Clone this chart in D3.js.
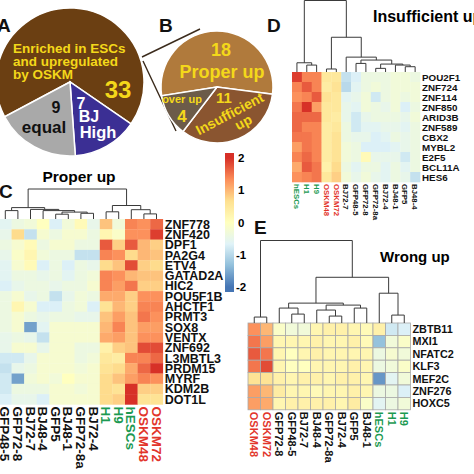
<!DOCTYPE html>
<html>
<head>
<meta charset="utf-8">
<script src="https://cdn.jsdelivr.net/npm/d3@7"></script>
<style>
body { margin: 0; background: #fff; }
svg { display: block; font-family: "Liberation Sans", Arial, sans-serif; font-weight: bold; }
</style>
</head>
<body>
<svg id="chart" width="474" height="474"></svg>
<script>
// pie A / pie B
const pieALabels = ["Enriched", "BJ High", "equal"];
const pieAValues = [33, 7, 9];
const pieBLabels = ["Proper up", "Insufficient up", "over up"];
const pieBValues = [18, 11, 4];

// panel C: Proper up
const cCols = ["GFP48-5", "GFP72-8", "BJ72-7", "BJ48-4", "GFP5", "BJ48-1", "GFP72-8a", "BJ72-4", "H1", "H9", "hESCs", "OSKM48", "OSKM72"];
const cRows = ["ZNF778", "ZNF420", "DPF1", "PA2G4", "ETV4", "GATAD2A", "HIC2", "POU5F1B", "AHCTF1", "PRMT3", "SOX8", "VENTX", "ZNF692", "L3MBTL3", "PRDM15", "MYRF", "KDM2B", "DOT1L"];
const cValues = [
    [-0.6, -0.4, -0.3, 0.0, -0.7, -0.3, 0.1, -0.5, 0.9, -0.3, 1.4, 1.3, 1.6],
    [-0.5, 0.7, -0.9, -0.2, -0.4, -0.2, -0.2, -0.4, 0.2, -0.1, 1.3, 1.3, 1.9],
    [-0.4, -0.2, 0.1, -0.4, -0.2, -0.2, -0.4, -0.4, 1.7, 0.8, 1.7, 1.0, 0.8],
    [-0.5, -0.1, 0.2, -0.3, -0.4, -0.4, -0.9, -0.9, 1.4, 1.3, 0.7, 1.0, 0.9],
    [-0.6, -0.2, 0.1, -0.7, -0.4, -0.7, -0.4, -0.5, 0.7, 0.9, 1.8, 0.8, 0.7],
    [-0.6, -0.4, -0.4, -0.5, -0.4, -0.6, -0.4, -0.3, 1.4, 1.3, 1.0, 0.9, 0.9],
    [-0.7, -0.5, -0.4, -0.4, -0.5, -0.4, -0.4, -0.2, 1.4, 1.2, 1.5, 0.8, 0.8],
    [-0.4, -0.2, -0.5, -0.4, -0.9, -0.5, -0.3, -0.4, 1.1, 1.1, 0.8, 1.3, 1.3],
    [-0.4, 0.2, -0.2, -0.7, -0.7, -0.4, -0.3, -0.7, 0.6, 1.0, 0.8, 1.4, 1.4],
    [-0.4, -0.2, -0.4, -0.5, -0.4, -0.4, -0.5, -0.5, 0.9, 1.2, 0.9, 1.5, 1.3],
    [-0.4, -0.2, -1.6, -0.6, -0.2, -0.2, -0.2, -0.2, 1.0, 1.4, 0.9, 1.2, 1.2],
    [-0.5, -0.4, -0.5, -0.9, -0.2, -0.2, -0.2, -0.2, 1.1, 1.2, 0.9, 1.3, 1.3],
    [-0.5, -0.2, -0.2, -0.5, -0.2, -0.2, -0.4, -0.4, 0.3, 0.8, 0.9, 1.8, 1.8],
    [-0.8, -0.8, -0.5, -0.2, -0.2, -0.2, -0.4, -0.3, 0.5, 0.4, 1.4, 1.4, 1.6],
    [-0.9, -0.5, -0.4, -0.2, -0.2, -0.2, -0.3, -0.2, 0.6, 0.7, 1.1, 1.6, 2.0],
    [-0.8, -1.6, -0.3, -0.2, -0.3, 0.0, -0.2, -0.2, 0.7, 0.9, 1.2, 1.4, 1.3],
    [-0.8, -0.4, -0.4, -0.4, -0.2, -0.2, -0.3, -0.2, 0.7, 0.6, 2.0, 0.8, 0.8],
    [-0.7, -0.5, -0.5, -0.7, -0.2, -0.2, -0.2, -0.2, 0.7, 0.8, 2.0, 0.6, 0.6]
];
const cTree = [10, [3.8, [2.8, "GFP48-5", "GFP72-8"], [3.2, "BJ72-7", [2.8, "BJ48-4", [2.3, [1.6, "GFP5", "BJ48-1"], [1.9, "GFP72-8a", "BJ72-4"]]]]],
                   [4.5, [2.4, "H1", "H9"], [3.1, "hESCs", [1.7, "OSKM48", "OSKM72"]]]];

// panel D: Insufficient up
const dCols = ["hESCs", "H1", "H9", "OSKM48", "OSKM72", "BJ72-7", "GFP48-5", "GFP72-8", "GFP72-8a", "BJ72-4", "BJ48-1", "GFP5", "BJ48-4"];
const dRows = ["POU2F1", "ZNF724", "ZNF114", "ZNF850", "ARID3B", "ZNF589", "CBX2", "MYBL2", "E2F5", "BCL11A", "HES6"];
const dValues = [
    [1.9, 1.4, 1.4, 0.5, 0.5, -0.9, -0.7, -0.4, -0.4, -0.4, -0.3, -0.3, -0.4],
    [1.4, 1.7, 1.4, 0.4, 0.6, -1.0, -0.6, -0.4, -0.3, -0.4, -0.3, -0.3, -0.3],
    [1.3, 1.4, 1.7, 0.6, 0.5, -0.6, -0.5, -0.3, -0.8, -0.4, -0.3, -0.4, -0.3],
    [1.5, 2.0, 1.2, 0.5, 0.5, -0.5, -0.6, -0.3, -0.4, -0.5, -0.3, -0.7, -0.4],
    [1.6, 1.6, 1.6, 0.5, 0.4, -0.5, -0.8, -0.5, -0.4, -0.4, -0.4, -0.5, -0.3],
    [1.6, 1.4, 1.4, 0.4, 0.5, -0.4, -0.8, -0.6, -0.6, -0.5, -0.5, -0.6, -0.4],
    [1.5, 1.5, 1.4, 0.4, 0.6, -0.4, -0.5, -0.5, -0.7, -0.6, -0.4, -0.5, -0.4],
    [1.2, 1.5, 1.4, 0.4, 0.6, -0.3, -0.4, -0.7, -0.7, -0.7, -0.6, -0.5, -0.4],
    [1.4, 1.6, 1.4, 0.4, 0.6, -0.3, -0.4, 0.1, -0.5, -0.5, -0.5, -0.8, -0.4],
    [1.1, 1.7, 1.5, 0.3, 0.7, -0.4, -0.6, -0.4, -0.4, -0.6, -0.4, -0.6, -0.4],
    [1.3, 1.4, 1.5, 0.5, 0.8, -0.3, -0.5, -0.3, -0.5, -0.6, -0.4, -0.5, -0.9]
];
const dTree = [10, [1.29, "hESCs", [0.97, "H1", "H9"]],
                   [4.86, [0.42, "OSKM48", "OSKM72"],
                          [2.08, "BJ72-7", [1.67, [1.2, "GFP48-5", "GFP72-8"],
                                                  [1.11, [0.51, "GFP72-8a", "BJ72-4"], [0.97, "BJ48-1", [0.74, "GFP5", "BJ48-4"]]]]]]];

// panel E: Wrong up
const eCols = ["OSKM48", "OSKM72", "GFP72-8", "GFP48-5", "BJ72-7", "BJ48-4", "GFP72-8a", "BJ72-4", "GFP5", "BJ48-1", "hESCs", "H1", "H9"];
const eRows = ["ZBTB11", "MXI1", "NFATC2", "KLF3", "MEF2C", "ZNF276", "HOXC5"];
const eValues = [
    [1.3, 1.0, -0.1, -0.3, -0.3, 0.2, 0.3, 0.3, 0.2, 0.1, 0.3, -0.8, -0.7],
    [1.5, 1.2, 0.2, 0.2, 0.2, 0.3, 0.2, 0.2, 0.3, 0.1, -1.3, -0.3, -0.1],
    [1.7, 1.5, 0.2, 0.0, 0.2, 0.3, 0.2, 0.2, 0.2, 0.2, -0.4, -0.2, -0.3],
    [1.5, 1.8, 0.2, 0.0, 0.0, 0.2, 0.2, 0.2, 0.3, 0.2, -0.4, -0.3, -0.1],
    [0.6, 0.6, 0.3, 0.2, 0.3, 0.3, 0.2, 0.3, 0.3, 0.2, -1.7, -0.6, -0.3],
    [1.2, 1.0, 0.4, 0.2, 0.2, 0.1, 0.2, 0.2, 0.3, 0.2, -0.4, -0.4, -0.7],
    [1.2, 1.1, 0.2, 0.3, 0.3, 0.3, 0.3, 0.2, 0.4, -0.1, -0.6, -0.4, -0.3]
];
const eTree = [10, [0.72, "OSKM48", "OSKM72"],
                   [5.54, [2.41, [1.81, "GFP72-8", [1.08, "GFP48-5", "BJ72-7"]],
                                 [2.17, [1.57, "BJ48-4", [0.84, "GFP72-8a", "BJ72-4"]], [1.81, "GFP5", "BJ48-1"]]],
                          [3.61, "hESCs", [0.96, "H1", "H9"]]]];

const legendTicks = [2, 1, 0, -1, -2];

const svg = d3.select("#chart");

const heatColor = d3.scaleLinear()
    .domain([-2, -4/3, -2/3, 0, 2/3, 4/3, 2])
    .range(["#4575b4", "#91bfdb", "#e0f3f8", "#ffffbf", "#fee090", "#fc8d59", "#d73027"])
    .clamp(true);

function labelColor(name) {
    if (name === "hESCs" || name === "H1" || name === "H9") return "#1c9a52";
    if (name.startsWith("OSKM")) return "#e2352b";
    return "#111";
}

function drawHeatmap(p) {
    const g = svg.append("g");
    const x = d3.scaleBand().domain(p.cols).range([p.x0, p.x0 + p.cw * p.cols.length]);
    const y = d3.scaleBand().domain(p.rows).range([p.y0, p.y0 + p.rh * p.rows.length]);

    p.values.forEach((row, i) => {
        g.selectAll(null).data(row).enter().append("rect")
            .attr("x", (d, j) => x(p.cols[j]))
            .attr("y", y(p.rows[i]))
            .attr("width", x.bandwidth() + (p.grid ? 0 : 0.3))
            .attr("height", y.bandwidth() + (p.grid ? 0 : 0.3))
            .attr("fill", d => heatColor(d))
            .attr("stroke", p.grid ? "#a9a9a9" : "none")
            .attr("stroke-width", p.grid ? 0.8 : 0);
    });

    g.selectAll(".rowlab").data(p.rows).enter().append("text")
        .attr("x", x.range()[1] + 2)
        .attr("y", d => y(d) + y.bandwidth() / 2)
        .attr("dy", "0.36em")
        .attr("font-size", p.rowFont)
        .attr("fill", "#111")
        .text(d => d);

    g.selectAll(".collab").data(p.cols).enter().append("text")
        .attr("transform", d => `translate(${x(d) + x.bandwidth() / 2},${y.range()[1] + 2}) rotate(90)`)
        .attr("dy", "0.36em")
        .attr("font-size", p.colFont)
        .attr("fill", d => labelColor(d))
        .text(d => d);

    // dendrogram on top
    const hy = d3.scaleLinear().domain([0, 10]).range([p.y0, p.rootY]);
    const path = d3.path();
    function walk(node) {
        if (typeof node === "string") return { x: x(node) + x.bandwidth() / 2, y: hy(0) };
        const a = walk(node[1]);
        const b = walk(node[2]);
        const ny = hy(node[0]);
        path.moveTo(a.x, a.y);
        path.lineTo(a.x, ny);
        path.lineTo(b.x, ny);
        path.lineTo(b.x, b.y);
        return { x: (a.x + b.x) / 2, y: ny };
    }
    walk(p.tree);
    g.append("path").attr("d", path.toString())
        .attr("fill", "none").attr("stroke", "#3a3a3a").attr("stroke-width", 1);
}

drawHeatmap({ cols: cCols, rows: cRows, values: cValues, tree: cTree,
    x0: -1, y0: 219, cw: 12.6, rh: 10.3, rootY: 189, rowFont: 12.5, colFont: 13.5, grid: false });
drawHeatmap({ cols: dCols, rows: dRows, values: dValues, tree: dTree,
    x0: 292, y0: 72, cw: 9.85, rh: 10, rootY: 0.5, rowFont: 9.8, colFont: 7.8, grid: false });
drawHeatmap({ cols: eCols, rows: eRows, values: eValues, tree: eTree,
    x0: 248, y0: 323, cw: 12.5, rh: 12.4, rootY: 240.5, rowFont: 10.8, colFont: 11, grid: true });

// titles
svg.append("text").attr("x", 79).attr("y", 182).attr("text-anchor", "middle").attr("font-size", 15.5).text("Proper up");
svg.append("text").attr("x", 373).attr("y", 22).attr("font-size", 16).text("Insufficient up");
svg.append("text").attr("x", 380).attr("y", 262).attr("font-size", 15).text("Wrong up");

// colour legend
const legY = d3.scaleLinear().domain([-2, 2]).range([287, 158]);
const legTop = 153, legBot = 292;
const grad = svg.append("defs").append("linearGradient")
    .attr("id", "leg").attr("x1", 0).attr("x2", 0).attr("y1", 1).attr("y2", 0);
heatColor.domain().forEach(v => {
    grad.append("stop")
        .attr("offset", (legBot - legY(v)) / (legBot - legTop))
        .attr("stop-color", heatColor(v));
});
svg.append("rect").attr("x", 225).attr("y", legTop).attr("width", 9).attr("height", legBot - legTop)
    .attr("fill", "url(#leg)");
svg.selectAll(".legtick").data(legendTicks).enter().append("text")
    .attr("x", d => d < 0 ? 236 : 238)
    .attr("y", d => legY(d))
    .attr("dy", "0.36em")
    .attr("font-size", 11.5)
    .text(d => d);

// zoom lines from pie A to pie B
svg.append("path").attr("d", "M142,57L200,29M143,61L176,131")
    .attr("stroke", "#3b2b1c").attr("stroke-width", 1.4).attr("fill", "none");

// pie A
const gA = svg.append("g").attr("transform", "translate(70,82)");
const pieA = d3.pie().sort(null).startAngle(-118 * Math.PI / 180).endAngle(242 * Math.PI / 180);
const arcA = d3.arc().innerRadius(0).outerRadius(74);
const colA = ["#6b3f12", "#3b2f94", "#a9a9a9"];
gA.selectAll("path").data(pieA(pieAValues)).enter().append("path")
    .attr("d", arcA).attr("fill", (d, i) => colA[i])
    .attr("stroke", "#fff").attr("stroke-width", 1.5);

const yellow = "#f4d81a";
svg.append("text").attr("font-size", 13.5).attr("fill", yellow)
    .selectAll("tspan").data(["Enriched in ESCs", "and upregulated", "by OSKM"]).enter().append("tspan")
    .attr("x", 13).attr("y", (d, i) => 53 + i * 13.2).text(d => d);
svg.append("text").attr("x", 118).attr("y", 98).attr("text-anchor", "middle").attr("font-size", 24).attr("fill", yellow).text(pieAValues[0]);
svg.append("text").attr("x", 56).attr("y", 113).attr("text-anchor", "middle").attr("font-size", 16).attr("fill", "#111").text(pieAValues[2]);
svg.append("text").attr("x", 44).attr("y", 133).attr("text-anchor", "middle").attr("font-size", 17).attr("fill", "#111").text("equal");
svg.append("text").attr("x", 81).attr("y", 109).attr("text-anchor", "middle").attr("font-size", 16).attr("fill", "#fff").text(pieAValues[1]);
svg.append("text").attr("x", 89).attr("y", 122).attr("text-anchor", "middle").attr("font-size", 16).attr("fill", "#fff").text("BJ");
svg.append("text").attr("x", 98).attr("y", 138).attr("text-anchor", "middle").attr("font-size", 16.5).attr("fill", "#fff").text("High");

// pie B
const gB = svg.append("g").attr("transform", "translate(217,87)");
const pieB = d3.pie().sort(null).startAngle(-99 * Math.PI / 180).endAngle(261 * Math.PI / 180);
const arcB = d3.arc().innerRadius(0).outerRadius(56);
const colB = ["#b07a3c", "#8a5530", "#6c5b49"];
gB.selectAll("path").data(pieB(pieBValues)).enter().append("path")
    .attr("d", arcB).attr("fill", (d, i) => colB[i])
    .attr("stroke", "#fff").attr("stroke-width", 1.5);

svg.append("text").attr("x", 221).attr("y", 56).attr("text-anchor", "middle").attr("font-size", 18).attr("fill", yellow).text(pieBValues[0]);
svg.append("text").attr("x", 222).attr("y", 78).attr("text-anchor", "middle").attr("font-size", 18).attr("fill", yellow).text(pieBLabels[0]);
svg.append("text").attr("x", 224).attr("y", 103).attr("text-anchor", "middle").attr("font-size", 15).attr("fill", yellow).text(pieBValues[1]);
const gIns = svg.append("g").attr("transform", "translate(232,118) rotate(-28)");
gIns.append("text").attr("text-anchor", "middle").attr("font-size", 14).attr("fill", yellow).text("Insufficient");
gIns.append("text").attr("x", 8).attr("y", 14).attr("text-anchor", "middle").attr("font-size", 14).attr("fill", yellow).text("up");
svg.append("text").attr("x", 182).attr("y", 103).attr("text-anchor", "middle").attr("font-size", 11).attr("fill", yellow).text(pieBLabels[2]);
svg.append("text").attr("x", 182).attr("y", 122).attr("text-anchor", "middle").attr("font-size", 17).attr("fill", yellow).text(pieBValues[2]);

// panel letters
const letters = [["A", -3, 32], ["B", 159, 32], ["C", -1, 198], ["D", 267, 32], ["E", 254, 234]];
svg.selectAll(".letter").data(letters).enter().append("text")
    .attr("x", d => d[1]).attr("y", d => d[2])
    .attr("font-size", 19).attr("font-weight", 900).attr("fill", "#111")
    .text(d => d[0]);
</script>
</body>
</html>
